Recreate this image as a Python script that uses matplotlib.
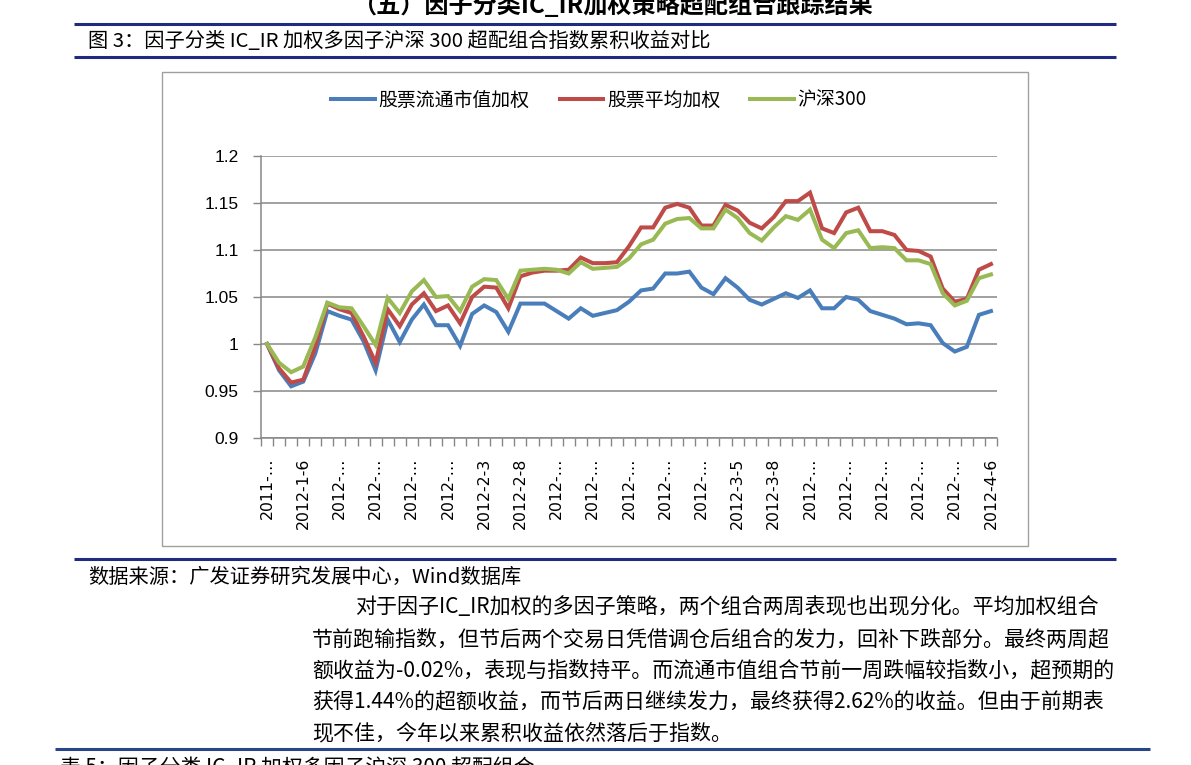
import matplotlib
matplotlib.use('Agg')
import matplotlib.pyplot as plt
from matplotlib.lines import Line2D
from matplotlib.patches import Rectangle
import numpy as np

plt.rcParams['font.family'] = ['Noto Sans CJK SC', 'DejaVu Sans']

# --- 数据 ---
series_names = ['股票流通市值加权', '股票平均加权', '沪深300']
liutong = [1.000, 0.972, 0.955, 0.960, 0.990, 1.035, 1.030, 1.026, 1.003, 0.972,
           1.026, 1.002, 1.026, 1.042, 1.020, 1.020, 0.998, 1.032, 1.041, 1.034,
           1.013, 1.043, 1.043, 1.043, 1.035, 1.027, 1.038, 1.030, 1.033, 1.036,
           1.045, 1.057, 1.059, 1.075, 1.075, 1.077, 1.060, 1.053, 1.070, 1.060,
           1.047, 1.042, 1.048, 1.054, 1.049, 1.057, 1.038, 1.038, 1.050, 1.047,
           1.035, 1.031, 1.027, 1.021, 1.022, 1.020, 1.001, 0.992, 0.997, 1.031,
           1.035]
pingjun = [1.000, 0.974, 0.959, 0.962, 0.997, 1.043, 1.037, 1.033, 1.008, 0.980,
           1.037, 1.019, 1.042, 1.054, 1.035, 1.041, 1.022, 1.050, 1.061, 1.060,
           1.038, 1.072, 1.076, 1.078, 1.078, 1.079, 1.092, 1.086, 1.086, 1.087,
           1.104, 1.124, 1.124, 1.145, 1.149, 1.145, 1.126, 1.126, 1.148, 1.142,
           1.129, 1.123, 1.135, 1.152, 1.152, 1.161, 1.123, 1.118, 1.140, 1.145,
           1.120, 1.120, 1.116, 1.100, 1.099, 1.093, 1.059, 1.045, 1.048, 1.079,
           1.085]
hs300 = [1.000, 0.980, 0.970, 0.976, 1.007, 1.044, 1.039, 1.038, 1.019, 0.999,
         1.049, 1.033, 1.056, 1.068, 1.050, 1.051, 1.035, 1.061, 1.069, 1.068,
         1.048, 1.078, 1.079, 1.080, 1.079, 1.075, 1.087, 1.080, 1.081, 1.082,
         1.091, 1.106, 1.111, 1.128, 1.133, 1.134, 1.123, 1.123, 1.143, 1.134,
         1.118, 1.110, 1.124, 1.136, 1.132, 1.143, 1.111, 1.102, 1.118, 1.121,
         1.102, 1.103, 1.102, 1.089, 1.089, 1.085, 1.054, 1.041, 1.046, 1.070,
         1.074]
tick_labels = ['2011-…', '2012-1-6', '2012-…', '2012-…', '2012-…', '2012-…',
               '2012-2-3', '2012-2-8', '2012-…', '2012-…', '2012-…', '2012-…',
               '2012-…', '2012-3-5', '2012-3-8', '2012-…', '2012-…', '2012-…',
               '2012-…', '2012-…', '2012-4-6']
y_ticks = [0.9, 0.95, 1.0, 1.05, 1.1, 1.15, 1.2]
y_tick_labels = ['0.9', '0.95', '1', '1.05', '1.1', '1.15', '1.2']

paragraph = [
    '对于因子IC_IR加权的多因子策略，两个组合两周表现也出现分化。平均加权组合',
    '节前跑输指数，但节后两个交易日凭借调仓后组合的发力，回补下跌部分。最终两周超',
    '额收益为-0.02%，表现与指数持平。而流通市值组合节前一周跌幅较指数小，超预期的',
    '获得1.44%的超额收益，而节后两日继续发力，最终获得2.62%的收益。但由于前期表',
    '现不佳，今年以来累积收益依然落后于指数。',
]

W, H = 1191, 765
fig = plt.figure(figsize=(W / 100, H / 100), dpi=100)


def fx(x):
    return x / W


def fy(y):
    return 1 - y / H


def hline(x0, x1, y, color, lw):
    fig.add_artist(Line2D([fx(x0), fx(x1)], [fy(y), fy(y)], transform=fig.transFigure,
                          color=color, lw=lw, solid_capstyle='butt'))


navy = '#1f2a80'

# --- 页面文字与分隔线 ---
fig.text(fx(613), fy(13), '（五）因子分类IC_IR加权策略超配组合跟踪结果', ha='center',
         va='baseline', fontsize=17.4, fontweight='bold')
hline(74, 1116, 24, navy, 2.2)
fig.text(fx(88), fy(42), '图 3：因子分类 IC_IR 加权多因子沪深 300 超配组合指数累积收益对比',
         ha='left', va='center', fontsize=14.6)
hline(74, 1116, 57, navy, 2.2)

# 图表外框
fig.add_artist(Rectangle((fx(162), fy(546)), fx(1028) - fx(162), fy(72) - fy(546),
                         transform=fig.transFigure, fill=False, ec='#a0a0a0', lw=1))

hline(74, 1116, 559, navy, 2.2)
fig.text(fx(88), fy(577), '数据来源：广发证券研究发展中心，Wind数据库', ha='left',
         va='center', fontsize=14.6)

line_y = [607, 639, 670, 702, 733]
for i, (txt, y) in enumerate(zip(paragraph, line_y)):
    x0 = 355 if i == 0 else 312
    fig.text(fx(x0), fy(y), txt, ha='left', va='center', fontsize=15.1)

hline(55, 1150, 749, '#27468a', 2.2)
fig.text(fx(60), fy(757), '表 5：因子分类 IC_IR 加权多因子沪深 300 超配组合', ha='left',
         va='top', fontsize=15)

# --- 折线图 ---
ax = fig.add_axes([fx(261), fy(438), fx(997) - fx(261), fy(156) - fy(438)])
x = np.arange(len(liutong))
colors = ['#4a7ebb', '#be4b48', '#98b954']
lines = []
for vals, c, name in zip([liutong, pingjun, hs300], colors, series_names):
    ln, = ax.plot(x, vals, color=c, lw=2.9, label=name, solid_joinstyle='miter')
    lines.append(ln)

ax.set_xlim(-0.5, len(x) - 0.5)
ax.set_ylim(0.9, 1.2)
ax.set_yticks(y_ticks)
ax.set_yticklabels(y_tick_labels, family='Liberation Sans', fontsize=12.5)
ax.yaxis.grid(True, color='#878787', lw=1.1)
ax.set_axisbelow(True)

ax.set_xticks(x[::3])
ax.set_xticklabels(tick_labels, rotation=90, family='DejaVu Sans', fontsize=11.3,
                   va='top', ha='center')
ax.set_xticks(np.arange(-0.5, len(x), 1), minor=True)
ax.tick_params(axis='x', which='major', length=0, pad=14)
ax.tick_params(axis='x', which='minor', length=6, color='#878787', width=1)
ax.tick_params(axis='y', length=6, color='#878787', width=1, pad=10)

for s in ['top', 'right']:
    ax.spines[s].set_visible(False)
for s in ['left', 'bottom']:
    ax.spines[s].set_color('#878787')
    ax.spines[s].set_linewidth(1.1)

fig.legend(handles=lines, loc='center', bbox_to_anchor=(fx(599), fy(100)), ncol=3,
           frameon=False, fontsize=13.6, handlelength=2.3, columnspacing=1.6,
           handletextpad=0.2)

fig.savefig('out.png', dpi=100)
